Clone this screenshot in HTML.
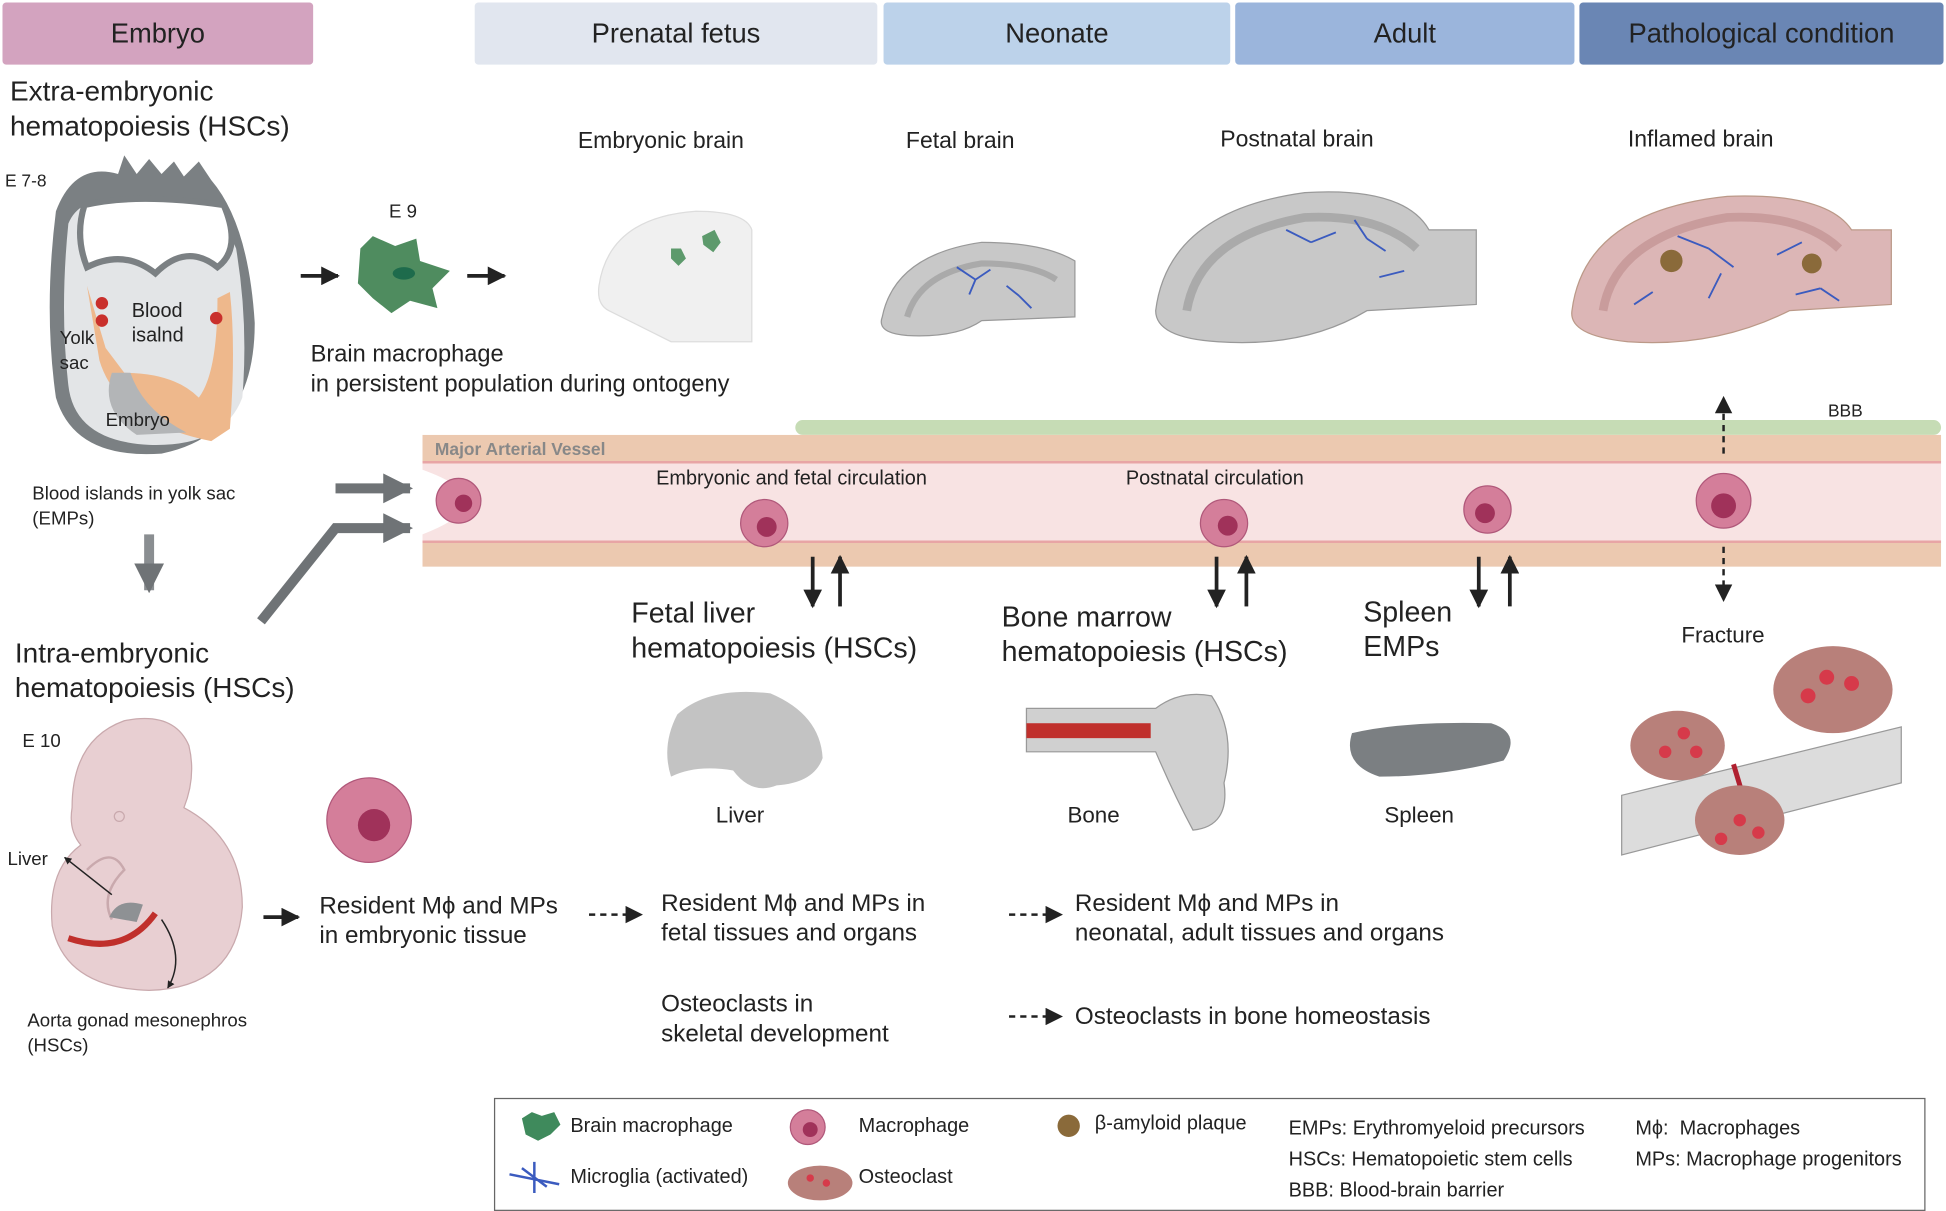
<!DOCTYPE html>
<html><head><meta charset="utf-8"><style>
html,body{margin:0;padding:0;background:#fff;overflow:hidden}
#w{width:1566px;height:975px;position:relative;transform:scale(1.24266);transform-origin:0 0;font-family:"Liberation Sans",sans-serif;color:#222}
.t{position:absolute;white-space:nowrap}
.h{position:absolute;top:2px;height:50px;border-radius:3px;font-size:22px;display:flex;align-items:center;justify-content:center}
</style></head><body><div id="w">
<div class="h" style="left:2px;width:250px;background:#d3a3bf">Embryo</div>
<div class="h" style="left:382px;width:324px;background:#e1e6ef">Prenatal fetus</div>
<div class="h" style="left:711px;width:279px;background:#bcd2ea">Neonate</div>
<div class="h" style="left:994px;width:273px;background:#9bb5dc">Adult</div>
<div class="h" style="left:1271px;width:293px;background:#6a86b4">Pathological condition</div>

<svg width="1566" height="975" style="position:absolute;left:0;top:0">
<defs><marker id="a" viewBox="0 0 10 10" refX="9" refY="5" markerWidth="5" markerHeight="5" orient="auto"><path d="M0 0L10 5L0 10z" fill="#222"/></marker>
<marker id="d" viewBox="0 0 10 10" refX="9" refY="5" markerWidth="7" markerHeight="7" orient="auto"><path d="M0 0L10 5L0 10z" fill="#222"/></marker>
<marker id="g" viewBox="0 0 10 10" refX="9" refY="5" markerWidth="3" markerHeight="3" orient="auto"><path d="M0 0L10 5L0 10z" fill="#6f7376"/></marker></defs>
<path d="M45 170 Q60 130 95 140 L100 125 L110 140 L120 128 L130 140 L140 130 L148 142 L160 130 L170 145 Q200 180 205 260 Q205 350 130 365 Q60 370 45 320 Q35 250 45 170z" fill="#7b8083"/>
<path d="M55 180 Q65 155 110 160 Q175 160 190 200 Q200 260 195 320 Q180 360 120 358 Q60 355 55 310 Q48 250 55 180z" fill="#e3e5e7"/>
<path d="M68 165 Q110 155 180 165 Q195 200 175 215 Q150 195 125 220 Q100 200 70 215 Q60 190 68 165z" fill="#fff" stroke="#7b8083" stroke-width="5"/>
<path d="M70 230 L80 290 Q95 340 170 355 L185 345 Q190 280 185 235 L175 240 Q175 300 160 320 Q140 300 100 300 L85 280 Z" fill="#eeb88c"/>
<path d="M90 300 Q80 330 110 350 L150 348 Q115 330 105 300z" fill="#b3b5b7"/>
<circle cx="82" cy="244" r="5" fill="#c9302c"/><circle cx="82" cy="258" r="5" fill="#c9302c"/><circle cx="174" cy="256" r="5" fill="#c9302c"/>
<line x1="242" y1="222" x2="272" y2="222" stroke="#222" stroke-width="3" marker-end="url(#a)"/>
<line x1="376" y1="222" x2="406" y2="222" stroke="#222" stroke-width="3" marker-end="url(#a)"/>
<path d="M290 200 L300 190 L318 198 L335 192 L338 210 L362 218 L348 232 L352 248 L330 242 L315 252 L300 240 L288 228 Z" fill="#4f8c5f"/>
<ellipse cx="325" cy="220" rx="9" ry="5" fill="#1e6b4c"/>
<path d="M482 230 Q490 175 560 170 Q600 170 605 185 L605 275 L540 275 Q510 260 490 250 Q480 245 482 230z" fill="#f0f0f0" stroke="#ddd"/>
<path d="M540 200 l8 0 4 8 -6 6 -6 -6z M565 190 l10 -5 5 10 -6 8 -8 -6z" fill="#5d9a6c"/>
<path d="M710 255 Q720 205 790 195 Q840 195 865 210 L865 255 L790 258 Q770 272 730 270 Q705 268 710 255z" fill="#c8c8c8" stroke="#999"/>
<path d="M730 255 Q740 220 790 212 Q830 212 850 225" stroke="#aaa" stroke-width="5" fill="none"/>
<path d="M930 250 Q940 170 1050 155 Q1130 150 1150 185 L1188 185 L1188 245 L1100 250 Q1050 280 980 275 Q930 272 930 250z" fill="#c8c8c8" stroke="#999"/>
<path d="M955 250 Q965 190 1050 175 Q1110 172 1140 200" stroke="#aaa" stroke-width="7" fill="none"/>
<path d="M1265 250 Q1275 170 1390 158 Q1470 155 1490 185 L1522 185 L1522 245 L1440 250 Q1380 280 1310 275 Q1262 270 1265 250z" fill="#dcb6b6" stroke="#b98"/>
<path d="M1290 250 Q1300 190 1390 175 Q1450 172 1480 200" stroke="#c99c9c" stroke-width="7" fill="none"/>
<g stroke="#3b5bbf" stroke-width="1.5" fill="none">
<path d="M785 225 l-15 -10 M785 225 l12 -8 M785 225 l-5 12 M820 238 l10 10 M820 238 l-10 -8 M1055 195 l-20 -10 M1055 195 l20 -8 M1100 192 l15 10 M1100 192 l-10 -15 M1130 218 l-20 5 M1375 200 l-25 -10 M1375 200 l20 15 M1430 205 l20 -10 M1465 232 l-20 5 M1465 232 l15 10 M1330 235 l-15 10 M1385 220 l-10 20"/></g>
<circle cx="1345" cy="210" r="9" fill="#8a6a3a"/><circle cx="1458" cy="212" r="8" fill="#8a6a3a"/>
<rect x="640" y="338" width="922" height="12" rx="6" fill="#c6dcb5"/>
<rect x="340" y="350" width="1222" height="22" fill="#ecc9b0"/>
<rect x="340" y="372" width="1222" height="64" fill="#f8e3e3"/>
<rect x="340" y="436" width="1222" height="20" fill="#ecc9b0"/>
<line x1="340" y1="372" x2="1562" y2="372" stroke="#e8a5a5" stroke-width="2"/><line x1="340" y1="436" x2="1562" y2="436" stroke="#e8a5a5" stroke-width="2"/>
<path d="M340 378 Q410 403 340 430z" fill="#fff"/>
<g fill="#d47e9a" stroke="#b0587a"><circle cx="369" cy="403" r="18"/><circle cx="615" cy="421" r="19"/><circle cx="985" cy="421" r="19"/><circle cx="1197" cy="410" r="19"/><circle cx="1387" cy="403" r="22"/><circle cx="297" cy="660" r="34"/><circle cx="650" cy="907" r="14"/></g>
<g fill="#a0325a"><circle cx="373" cy="405" r="7"/><circle cx="617" cy="424" r="8"/><circle cx="988" cy="423" r="8"/><circle cx="1195" cy="413" r="8"/><circle cx="1387" cy="407" r="10"/><circle cx="301" cy="664" r="13"/><circle cx="652" cy="909" r="6"/></g>
<line x1="270" y1="393" x2="330" y2="393" stroke="#6f7376" stroke-width="8" marker-end="url(#g)"/>
<path d="M210 500 L270 425 L330 425" stroke="#6f7376" stroke-width="8" fill="none" marker-end="url(#g)"/>
<line x1="120" y1="430" x2="120" y2="475" stroke="#8a8e91" stroke-width="8" marker-end="url(#g)"/>
<g stroke="#222" stroke-width="3"><line x1="654" y1="448" x2="654" y2="488" marker-end="url(#a)"/><line x1="676" y1="488" x2="676" y2="448" marker-end="url(#a)"/>
<line x1="979" y1="448" x2="979" y2="488" marker-end="url(#a)"/><line x1="1003" y1="488" x2="1003" y2="448" marker-end="url(#a)"/>
<line x1="1190" y1="448" x2="1190" y2="488" marker-end="url(#a)"/><line x1="1215" y1="488" x2="1215" y2="448" marker-end="url(#a)"/></g>
<g stroke="#222" stroke-width="2" stroke-dasharray="5 4"><line x1="1387" y1="365" x2="1387" y2="320" marker-end="url(#d)"/><line x1="1387" y1="440" x2="1387" y2="483" marker-end="url(#d)"/>
<line x1="474" y1="736" x2="516" y2="736" marker-end="url(#d)"/><line x1="812" y1="736" x2="854" y2="736" marker-end="url(#d)"/><line x1="812" y1="818" x2="854" y2="818" marker-end="url(#d)"/></g>
<line x1="212" y1="738" x2="240" y2="738" stroke="#222" stroke-width="3" marker-end="url(#a)"/>
<!-- embryo E10 -->
<path d="M58 650 Q58 595 100 580 Q140 572 152 600 Q158 625 148 650 Q195 675 195 730 Q190 795 120 797 Q52 795 42 745 Q38 700 65 680 Q55 668 58 650z" fill="#e8cfd2" stroke="#c9a9ad"/>
<circle cx="96" cy="657" r="4" fill="none" stroke="#c9a9ad"/>
<path d="M70 700 Q90 680 100 700 Q80 720 90 740" stroke="#c9a9ad" stroke-width="2" fill="none"/>
<path d="M55 755 Q100 770 125 735" stroke="#c0302c" stroke-width="5" fill="none"/>
<path d="M88 738 Q95 722 115 728 L110 742z" fill="#8e9194"/>
<path d="M90 720 L52 690" stroke="#222" stroke-width="1.2" marker-end="url(#a)"/>
<path d="M130 740 Q150 770 135 795" stroke="#222" stroke-width="1.2" fill="none" marker-end="url(#a)"/>
<path d="M545 575 Q570 552 620 558 Q660 575 662 610 Q655 630 625 632 Q605 640 590 620 Q560 615 540 625 Q532 600 545 575z" fill="#c3c3c3"/>
<path d="M826 570 L930 570 Q950 555 975 560 Q995 590 985 630 Q990 665 960 668 Q945 640 930 605 L826 605z" fill="#d0d0d0" stroke="#999"/>
<rect x="826" y="582" width="100" height="12" fill="#c0302c"/>
<path d="M1088 590 Q1130 580 1200 582 Q1225 590 1210 612 Q1160 625 1110 625 Q1080 615 1088 590z" fill="#7b7f82"/>
<path d="M1305 640 L1530 585 L1530 630 L1305 688z" fill="#dcdcdc" stroke="#999"/>
<path d="M1395 615 L1410 665" stroke="#b02030" stroke-width="4"/>
<g fill="#b8807a"><ellipse cx="1350" cy="600" rx="38" ry="28"/><ellipse cx="1475" cy="555" rx="48" ry="35"/><ellipse cx="1400" cy="660" rx="36" ry="28"/><ellipse cx="660" cy="952" rx="26" ry="14"/></g>
<g fill="#d63a4a"><circle cx="1355" cy="590" r="5"/><circle cx="1340" cy="605" r="5"/><circle cx="1365" cy="605" r="5"/><circle cx="1470" cy="545" r="6"/><circle cx="1490" cy="550" r="6"/><circle cx="1455" cy="560" r="6"/><circle cx="1400" cy="660" r="5"/><circle cx="1415" cy="670" r="5"/><circle cx="1385" cy="675" r="5"/><circle cx="652" cy="948" r="3"/><circle cx="665" cy="952" r="3"/></g>
<path d="M420 900 l8 -5 8 3 10 -3 5 10 -8 8 -10 5 -10 -5z" fill="#3f8a5c"/>
<circle cx="860" cy="906" r="9" fill="#8a6a3a"/>
<path d="M410 945 l40 8 M430 935 l0 25 M420 940 l20 15" stroke="#3b5bbf" stroke-width="2"/>
<rect x="398" y="884" width="1151" height="90" fill="none" stroke="#666"/>
</svg>

<div class="t" style="left:8px;top:60px;font-size:22.5px;line-height:28px">Extra-embryonic<br>hematopoiesis (HSCs)</div>
<div class="t" style="left:4px;top:137px;font-size:14px">E 7-8</div>
<div class="t" style="left:106px;top:241px;font-size:16px;line-height:20px">Blood<br>isalnd</div>
<div class="t" style="left:48px;top:263px;font-size:15px;line-height:20px">Yolk<br>sac</div>
<div class="t" style="left:85px;top:330px;font-size:15px">Embryo</div>
<div class="t" style="left:26px;top:388px;font-size:15px;line-height:20px">Blood islands in yolk sac<br>(EMPs)</div>
<div class="t" style="left:313px;top:162px;font-size:15px">E 9</div>
<div class="t" style="left:250px;top:274px;font-size:19px;line-height:24px">Brain macrophage<br>in persistent population during ontogeny</div>
<div class="t" style="left:465px;top:102px;font-size:18.5px">Embryonic brain</div>
<div class="t" style="left:729px;top:102px;font-size:18.5px">Fetal brain</div>
<div class="t" style="left:982px;top:101px;font-size:18.5px">Postnatal brain</div>
<div class="t" style="left:1310px;top:101px;font-size:18.5px">Inflamed brain</div>
<div class="t" style="left:1471px;top:322px;font-size:14px">BBB</div>
<div class="t" style="left:350px;top:353px;font-size:14px;font-weight:bold;color:#888">Major Arterial Vessel</div>
<div class="t" style="left:528px;top:377px;font-size:16px">Embryonic and fetal circulation</div>
<div class="t" style="left:906px;top:377px;font-size:16px">Postnatal circulation</div>
<div class="t" style="left:12px;top:512px;font-size:22.5px;line-height:28px">Intra-embryonic<br>hematopoiesis (HSCs)</div>
<div class="t" style="left:508px;top:479px;font-size:23px;line-height:28px">Fetal liver<br>hematopoiesis (HSCs)</div>
<div class="t" style="left:806px;top:482px;font-size:23px;line-height:28px">Bone marrow<br>hematopoiesis (HSCs)</div>
<div class="t" style="left:1097px;top:478px;font-size:23px;line-height:28px">Spleen<br>EMPs</div>
<div class="t" style="left:1353px;top:501px;font-size:18px">Fracture</div>
<div class="t" style="left:18px;top:588px;font-size:15px">E 10</div>
<div class="t" style="left:6px;top:683px;font-size:15px">Liver</div>
<div class="t" style="left:22px;top:812px;font-size:15px;line-height:20px">Aorta gonad mesonephros<br>(HSCs)</div>
<div class="t" style="left:576px;top:646px;font-size:18px">Liver</div>
<div class="t" style="left:859px;top:646px;font-size:18px">Bone</div>
<div class="t" style="left:1114px;top:646px;font-size:18px">Spleen</div>
<div class="t" style="left:257px;top:717px;font-size:19.5px;line-height:24px">Resident Mϕ and MPs<br>in embryonic tissue</div>
<div class="t" style="left:532px;top:715px;font-size:19.5px;line-height:24px">Resident Mϕ and MPs in<br>fetal tissues and organs</div>
<div class="t" style="left:865px;top:715px;font-size:19.5px;line-height:24px">Resident Mϕ and MPs in<br>neonatal, adult tissues and organs</div>
<div class="t" style="left:532px;top:796px;font-size:19.5px;line-height:24px">Osteoclasts in<br>skeletal development</div>
<div class="t" style="left:865px;top:807px;font-size:19.5px">Osteoclasts in bone homeostasis</div>
<div class="t" style="left:459px;top:898px;font-size:16px">Brain macrophage</div>
<div class="t" style="left:459px;top:939px;font-size:16px">Microglia (activated)</div>
<div class="t" style="left:691px;top:898px;font-size:16px">Macrophage</div>
<div class="t" style="left:691px;top:939px;font-size:16px">Osteoclast</div>
<div class="t" style="left:881px;top:896px;font-size:16px">β-amyloid plaque</div>
<div class="t" style="left:1037px;top:896px;font-size:16px;line-height:25px">EMPs: Erythromyeloid precursors<br>HSCs: Hematopoietic stem cells<br>BBB: Blood-brain barrier</div>
<div class="t" style="left:1316px;top:896px;font-size:16px;line-height:25px">Mϕ:&nbsp; Macrophages<br>MPs: Macrophage progenitors</div>
</div></body></html>
